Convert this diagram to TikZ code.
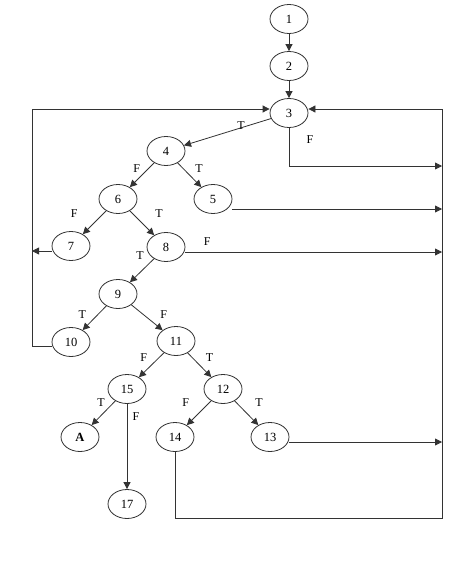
\documentclass[tikz,border=0pt]{standalone}
\usepackage{fontspec}
\setmainfont{Liberation Serif}
\usepackage{tikz}
\usetikzlibrary{arrows.meta, positioning, shapes.geometric}
\tikzset{
    cfgnode/.style={ellipse, draw=black!80, line width=0.8pt, minimum width=38pt, minimum height=29pt, inner sep=0pt, font=\fontsize{12.5}{14}\selectfont},
    cfgarrow/.style={-{Triangle[length=7pt,width=7pt]}, line width=0.8pt, draw=black!80},
    cfglabel/.style={inner sep=0pt, font=\fontsize{12}{14}\selectfont}
}
\begin{document}
\begin{tikzpicture}[x=1pt, y=-1pt]
    \useasboundingbox[fill=white] (0,0) rectangle (474,575);

    \node[cfgnode] (n1) at (289,19) {1};
    \node[cfgnode] (n2) at (289,66) {2};
    \node[cfgnode] (n3) at (289,113) {3};
    \node[cfgnode] (n4) at (166,151) {4};
    \node[cfgnode] (n6) at (118,199) {6};
    \node[cfgnode] (n5) at (213,199) {5};
    \node[cfgnode] (n7) at (71,246) {7};
    \node[cfgnode] (n8) at (166,247) {8};
    \node[cfgnode] (n9) at (118,294) {9};
    \node[cfgnode] (n10) at (71,342) {10};
    \node[cfgnode] (n11) at (176,341) {11};
    \node[cfgnode] (n15) at (127,389) {15};
    \node[cfgnode] (n12) at (223,389) {12};
    \node[cfgnode] (nA) at (80,437) {\textbf{A}};
    \node[cfgnode] (n14) at (175,437) {14};
    \node[cfgnode] (n13) at (270,437) {13};
    \node[cfgnode] (n17) at (127,504) {17};

    % Loop corners
    \coordinate (ltop) at (32,109);
    \coordinate (rtop) at (442,109);
    \coordinate (rbot) at (442,518);
    \coordinate (c3) at (289,166);

    % Branches
    \draw[cfgarrow] (n1) -- (n2);
    \draw[cfgarrow] (n2) -- (n3);
    \draw[cfgarrow] (n3) -- node[cfglabel, pos=.32, xshift=-2pt, yshift=2pt] {T} (n4);
    \draw[cfgarrow] (n4) -- node[cfglabel, pos=.35, xshift=-9pt, yshift=3pt] {F} (n6);
    \draw[cfgarrow] (n4) -- node[cfglabel, pos=.35, xshift=13pt, yshift=3pt] {T} (n5);
    \draw[cfgarrow] (n6) -- node[cfglabel, pos=.3, xshift=-25pt, yshift=4pt] {F} (n7);
    \draw[cfgarrow] (n6) -- node[cfglabel, pos=.3, xshift=22pt, yshift=5pt] {T} (n8);
    \draw[cfgarrow] (n8) -- node[cfglabel, pos=.17, xshift=-10pt, yshift=7pt] {T} (n9);
    \draw[cfgarrow] (n9) -- node[cfglabel, pos=.42, xshift=-14pt, yshift=1pt] {T} (n10);
    \draw[cfgarrow] (n9) -- node[cfglabel, pos=.43, xshift=19pt, yshift=1pt] {F} (n11);
    \draw[cfgarrow] (n11) -- node[cfglabel, pos=.33, xshift=-12pt, yshift=3pt] {F} (n15);
    \draw[cfgarrow] (n11) -- node[cfglabel, pos=.33, xshift=14pt, yshift=3pt] {T} (n12);
    \draw[cfgarrow] (n15) -- node[cfglabel, pos=.27, xshift=-8pt, yshift=5pt] {T} (nA);
    \draw[cfgarrow] (n15) -- node[cfglabel, pos=.23, xshift=9pt, yshift=7pt] {F} (n17);
    \draw[cfgarrow] (n12) -- node[cfglabel, pos=.27, xshift=-19pt, yshift=5pt] {F} (n14);
    \draw[cfgarrow] (n12) -- node[cfglabel, pos=.27, xshift=18pt, yshift=5pt] {T} (n13);

    % Exits to the right
    \draw[cfgarrow] (n3.south) -- node[cfglabel, pos=.3, xshift=21pt] {F} (c3) -- (c3 -| rtop);
    \draw[cfgarrow] ([yshift=-10pt]n5.east) -- ([yshift=-10pt]n5.east -| rtop);
    \draw[cfgarrow] ([yshift=-5pt]n8.east) -- node[cfglabel, pos=.085, above=6pt] {F} ([yshift=-5pt]n8.east -| rtop);
    \draw[cfgarrow] ([yshift=-5pt]n13.east) -- ([yshift=-5pt]n13.east -| rtop);
    \draw[cfgarrow] ([yshift=-5pt]n7.west) -- ([yshift=-5pt]n7.west -| ltop);

    % Back edges to 3
    \draw[cfgarrow] ([yshift=-4pt]n10.west) -| (ltop) -- (ltop -| n3.west);
    \draw[cfgarrow] (n14.south) |- (rbot) -- (rtop) -- (rtop -| n3.east);
\end{tikzpicture}
\end{document}
